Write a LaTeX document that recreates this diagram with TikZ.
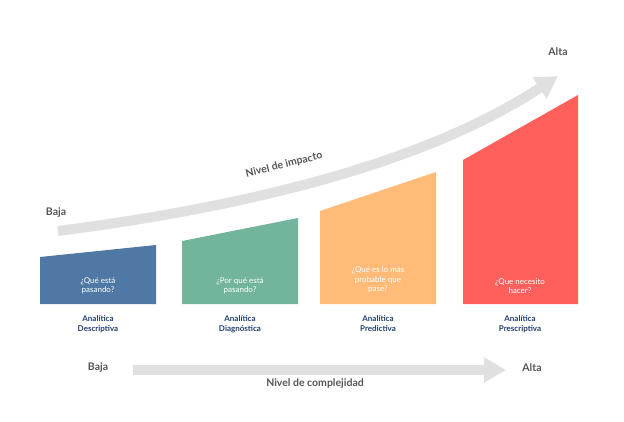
\documentclass[tikz,border=0pt]{standalone}
\usepackage{fontspec}
\setmainfont{Lato}
\usetikzlibrary{arrows.meta}
\definecolor{cblue}{HTML}{4F79A4}
\definecolor{cgreen}{HTML}{72B59A}
\definecolor{corange}{HTML}{FFBB77}
\definecolor{cred}{HTML}{FF605C}
\definecolor{lab}{HTML}{1F3F6E}
\definecolor{gtxt}{HTML}{555555}
\definecolor{arr}{HTML}{E0E0E0}
\begin{document}
\begin{tikzpicture}[x=1pt,y=-1pt,
  q/.style={text=white,font=\fontsize{8}{9.5}\selectfont,align=center},
  lbl/.style={text=lab,font=\bfseries\fontsize{8}{10}\selectfont,align=center},
  g/.style={text=gtxt,font=\bfseries\fontsize{10.5}{12}\selectfont},
  garr/.style={draw=arr,line width=10pt,-{Triangle[width=24pt,length=22pt]}}]
\useasboundingbox (0,0) rectangle (624,421);
\fill[cblue] (40,304) -- (40,257) -- (156,245) -- (156,304) -- cycle;
\fill[cgreen] (182,304) -- (182,241) -- (298,218) -- (298,304) -- cycle;
\fill[corange] (320,304) -- (320,211) -- (436,172) -- (436,304) -- cycle;
\fill[cred] (463,304) -- (463,160) -- (578,95) -- (578,304) -- cycle;
\node[q] (q1) at (98,286) {¿Qué está\\pasando?};
\node[q] (q2) at (240,286) {¿Por qué está\\pasando?};
\node[q] (q3) at (378,280) {¿Qué es lo más\\probable que\\pase?};
\node[q] (q4) at (520,286) {¿Que necesito\\hacer?};
\node[lbl] (l1) at (98,324) {Analítica\\Descriptiva};
\node[lbl] (l2) at (240,324) {Analítica\\Diagnóstica};
\node[lbl] (l3) at (378,324) {Analítica\\Predictiva};
\node[lbl] (l4) at (520,324) {Analítica\\Prescriptiva};
\coordinate (c1) at (58,231);
\coordinate (c2) at (558,76);
\draw[garr] (c1) .. controls (260,205) and (430,160) .. (c2);
\coordinate (b1) at (133,370);
\coordinate (b2) at (506,370);
\draw[garr] (b1) -- (b2);
\node[g] (t1) at (56,213) {Baja};
\node[g] (t2) at (558,52) {Alta};
\node[g,rotate=14] (t3) at (284,165) {Nivel de impacto};
\node[g] (t4) at (98,368) {Baja};
\node[g] (t5) at (532,368) {Alta};
\node[g] (t6) at (315,384) {Nivel de complejidad};
\end{tikzpicture}
\end{document}
